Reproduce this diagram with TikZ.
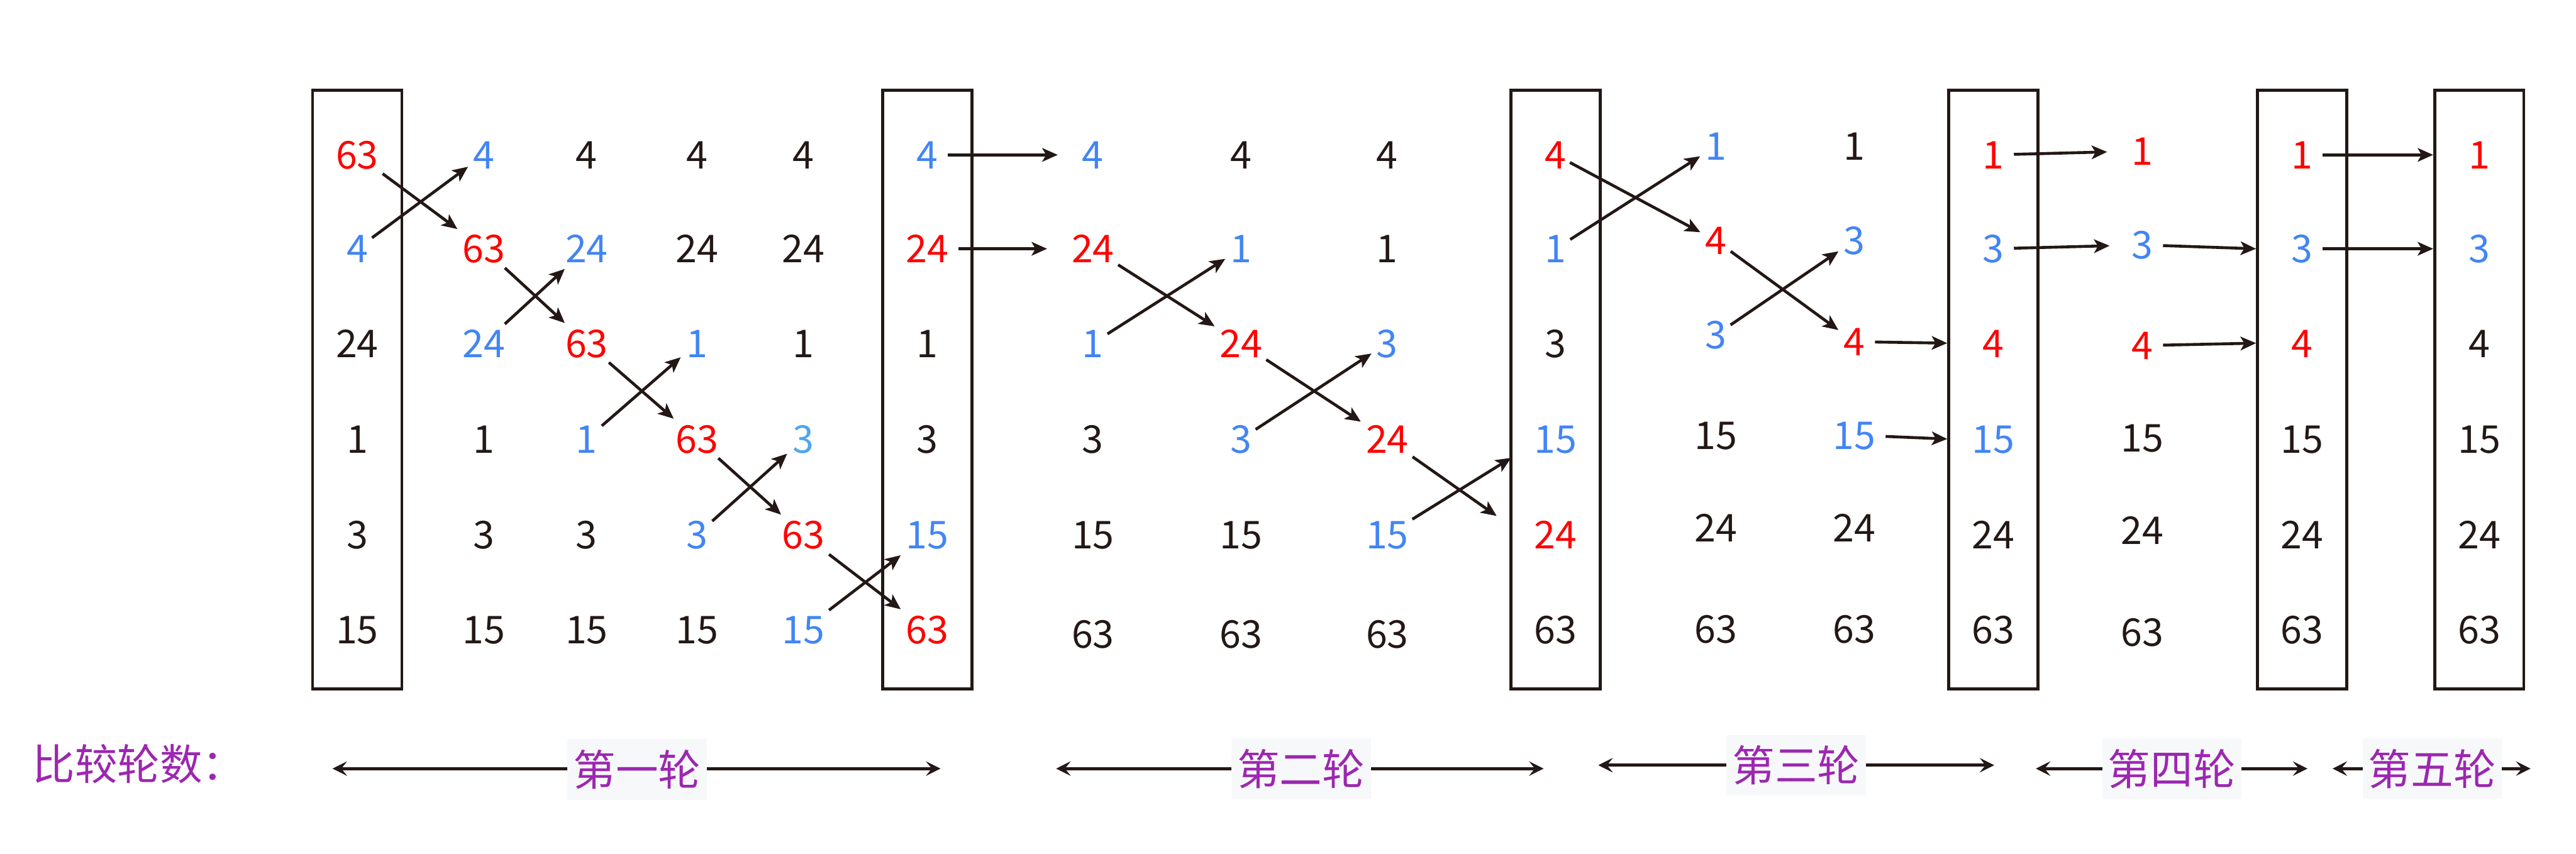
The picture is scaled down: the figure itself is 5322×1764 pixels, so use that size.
\documentclass[tikz,border=0pt]{standalone}
\usepackage{fontspec}
\newfontfamily\cjk{Noto Sans CJK SC}
\usetikzlibrary{arrows.meta,calc}
\definecolor{nred}{RGB}{255,0,0}
\definecolor{nblue}{RGB}{66,133,244}
\definecolor{nlblue}{RGB}{77,166,240}
\definecolor{nblk}{RGB}{35,24,21}
\definecolor{lpurp}{RGB}{156,39,176}
\definecolor{lbg}{RGB}{247,248,250}
\newcommand\mkcol[3]{%
  \foreach \v/\c/\y [count=\i from 0] in {#3}
    \node[num,text=\c] (#1r\i) at (#2,\y) {\v};}
\begin{document}
\begin{tikzpicture}[x=0.01cm,y=-0.01cm,
  num/.style={font=\cjk\fontsize{22.5pt}{27pt}\selectfont, text height=0.58cm, text depth=0cm, inner sep=0.2cm},
  colbox/.style={draw=nblk, line width=0.06cm, minimum width=1.84cm, minimum height=12.36cm, inner sep=0},
  arr/.style={-{Stealth[length=0.32cm,width=0.28cm,inset=0.08cm]}, line width=0.06cm, draw=nblk},
  diag/.style={arr, shorten <=-0.15cm, shorten >=-0.12cm},
  darr/.style={{Stealth[length=0.3cm,width=0.3cm,inset=0.12cm]}-{Stealth[length=0.3cm,width=0.3cm,inset=0.12cm]}, line width=0.065cm, draw=nblk},
  lab/.style={font=\cjk\fontsize{25pt}{30pt}\selectfont, text=lpurp, fill=lbg, inner xsep=0.12cm, inner ysep=0.22cm}]
\useasboundingbox (0,0) rectangle (5322,1764);
% boxes
\node[colbox] (b1) at (738,805) {};
\node[colbox] (b2) at (1916,805) {};
\node[colbox] (b3) at (3214,805) {};
\node[colbox] (b4) at (4118,805) {};
\node[colbox] (b5) at (4756,805) {};
\node[colbox] (b6) at (5122,805) {};
% round 1
\mkcol{c0}{738}{63/nred/320,4/nblue/514,24/nblk/709,1/nblk/907,3/nblk/1105,15/nblk/1301}
\mkcol{c1}{1000}{4/nblue/320,63/nred/514,24/nblue/709,1/nblk/907,3/nblk/1105,15/nblk/1301}
\mkcol{c2}{1212}{4/nblk/320,24/nblue/514,63/nred/709,1/nblue/907,3/nblk/1105,15/nblk/1301}
\mkcol{c3}{1440}{4/nblk/320,24/nblk/514,1/nblue/709,63/nred/907,3/nblue/1105,15/nblk/1301}
\mkcol{c4}{1660}{4/nblk/320,24/nblk/514,1/nblk/709,3/nlblue/907,63/nred/1105,15/nblue/1301}
\mkcol{c5}{1916}{4/nblue/320,24/nred/514,1/nblk/709,3/nblk/907,15/nblue/1105,63/nred/1301}
% round 2
\mkcol{d0}{2258}{4/nblue/320,24/nred/514,1/nblue/709,3/nblk/907,15/nblk/1105,63/nblk/1310}
\mkcol{d1}{2564}{4/nblk/320,1/nblue/514,24/nred/709,3/nblue/907,15/nblk/1105,63/nblk/1310}
\mkcol{d2}{2866}{4/nblk/320,1/nblk/514,3/nblue/709,24/nred/907,15/nblue/1105,63/nblk/1310}
\mkcol{d3}{3214}{4/nred/320,1/nblue/514,3/nblk/709,15/nblue/907,24/nred/1105,63/nblk/1301}
% round 3
\mkcol{e0}{3545}{1/nblue/302,4/nred/497,3/nblue/692,15/nblk/899,24/nblk/1090,63/nblk/1300}
\mkcol{e1}{3831}{1/nblk/302,3/nblue/497,4/nred/706,15/nblue/899,24/nblk/1090,63/nblk/1300}
\mkcol{e2}{4118}{1/nred/320,3/nblue/514,4/nred/709,15/nblue/907,24/nblk/1105,63/nblk/1301}
% round 4
\mkcol{f0}{4426}{1/nred/312,3/nblue/506,4/nred/714,15/nblk/904,24/nblk/1095,63/nblk/1306}
\mkcol{f1}{4756}{1/nred/320,3/nblue/514,4/nred/709,15/nblk/907,24/nblk/1105,63/nblk/1301}
% round 5
\mkcol{g0}{5122}{1/nred/320,3/nblue/514,4/nblk/709,15/nblk/907,24/nblk/1105,63/nblk/1301}
% round 1 arrows
\draw[diag] (c0r0) -- (c1r1);
\draw[diag] (c0r1) -- (c1r0);
\draw[diag] (c1r1) -- (c2r2);
\draw[diag] (c1r2) -- (c2r1);
\draw[diag] (c2r2) -- (c3r3);
\draw[diag] (c2r3) -- (c3r2);
\draw[diag] (c3r3) -- (c4r4);
\draw[diag] (c3r4) -- (c4r3);
\draw[diag] (c4r4) -- (c5r5);
\draw[diag] (c4r5) -- (c5r4);
\draw[arr, shorten >=0.3cm] (c5r0) -- (d0r0);
\draw[arr, shorten >=0.3cm] (c5r1) -- (d0r1);
% round 2 arrows
\draw[diag] (d0r1) -- (d1r2);
\draw[diag] (d0r2) -- (d1r1);
\draw[diag] (d1r2) -- (d2r3);
\draw[diag] (d1r3) -- (d2r2);
\coordinate (p1) at (3092,1066);
\coordinate (p2) at (3122,946);
\draw[arr, shorten <=-0.15cm] (d2r3) -- (p1);
\draw[arr, shorten <=-0.15cm] (d2r4) -- (p2);
% round 3 arrows
\draw[diag] (d3r0) -- (e0r1);
\draw[diag] (d3r1) -- (e0r0);
\draw[diag] (e0r1) -- (e1r2);
\draw[diag] (e0r2) -- (e1r1);
\draw[arr] (e1r2) -- (b4.west |- e2r2);
\draw[arr] (e1r3) -- (b4.west |- e2r3);
% round 4 arrows
\draw[arr, shorten >=0.3cm] (e2r0) -- (f0r0);
\draw[arr, shorten >=0.25cm] (e2r1) -- (f0r1);
\draw[arr] (f0r1) -- (b5.west |- f1r1);
\draw[arr] (f0r2) -- (b5.west |- f1r2);
% round 5 arrows
\draw[arr] (f1r0) -- (b6.west |- g0r0);
\draw[arr] (f1r1) -- (b6.west |- g0r1);
% bottom
\node[font=\cjk\fontsize{25pt}{30pt}\selectfont, text=lpurp, anchor=west, inner sep=0] (title) at (66,1578) {比较轮数：};
\coordinate (a1l) at (687,1588); \coordinate (a1r) at (1943,1588);
\coordinate (a2l) at (2182,1588); \coordinate (a2r) at (3189,1588);
\coordinate (a3l) at (3302,1581); \coordinate (a3r) at (4120,1581);
\coordinate (a4l) at (4206,1588); \coordinate (a4r) at (4767,1588);
\coordinate (a5l) at (4819,1588); \coordinate (a5r) at (5228,1588);
\draw[darr] (a1l) -- (a1r);
\draw[darr] (a2l) -- (a2r);
\draw[darr] (a3l) -- (a3r);
\draw[darr] (a4l) -- (a4r);
\draw[darr] (a5l) -- (a5r);
\node[lab] (l1) at (1316,1590) {第一轮};
\node[lab] (l2) at (2688,1588) {第二轮};
\node[lab] (l3) at (3711,1581) {第三轮};
\node[lab] (l4) at (4487,1588) {第四轮};
\node[lab] (l5) at (5025,1588) {第五轮};
\end{tikzpicture}
\end{document}
